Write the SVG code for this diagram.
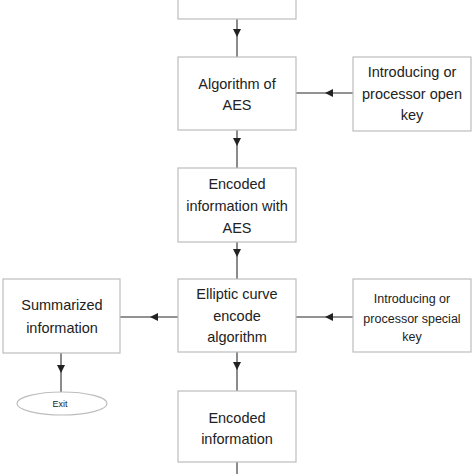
<svg xmlns="http://www.w3.org/2000/svg" width="474" height="474" viewBox="0 0 474 474">
<style>
.box{fill:#fff;stroke:#bdbdbd;stroke-width:1.2}
.t{font-family:"Liberation Sans",Arial,sans-serif;font-size:14.5px;fill:#222;text-anchor:middle}
.s{font-size:12.5px}
.e{font-size:9px}
.c{fill:none;stroke:#6e6e6e;stroke-width:1.6;marker-mid:url(#ah)}
</style>
<defs>
<marker id="ah" viewBox="0 0 10 10" refX="10" refY="5" markerWidth="8" markerHeight="8" markerUnits="userSpaceOnUse" orient="auto">
<path d="M0,0 L10,5 L0,10 Z" fill="#222"/>
</marker>
</defs>
<rect width="474" height="474" fill="#fff"/>
<g id="connectors">
<path class="c" d="M237,19 L237,37 L237,57"/>
<path class="c" d="M237,130 L237,146 L237,168"/>
<path class="c" d="M237,242 L237,257 L237,279"/>
<path class="c" d="M237,352 L237,370 L237,391"/>
<path class="c" d="M237,462 L237,474" style="marker-mid:none"/>
<path class="c" d="M353,93 L325,93 L296,93"/>
<path class="c" d="M353,317 L325,317 L296,317"/>
<path class="c" d="M178,317 L150,317 L120,317"/>
<path class="c" d="M61,353 L61,373 L61,392"/>
</g>
<g id="top"><rect class="box" x="178" y="-5" width="118" height="24"/></g>
<g id="aes">
<rect class="box" x="178" y="57" width="118" height="73"/>
<text class="t" x="237" y="89">Algorithm of</text>
<text class="t" x="237" y="110">AES</text>
</g>
<g id="openkey">
<rect class="box" x="353" y="57" width="118" height="74"/>
<text class="t" x="412" y="77">Introducing or</text>
<text class="t" x="412" y="99">processor open</text>
<text class="t" x="412" y="120">key</text>
</g>
<g id="encaes">
<rect class="box" x="178" y="168" width="118" height="74"/>
<text class="t" x="237" y="189">Encoded</text>
<text class="t" x="237" y="211">information with</text>
<text class="t" x="237" y="233">AES</text>
</g>
<g id="elliptic">
<rect class="box" x="178" y="279" width="118" height="73"/>
<text class="t" x="237" y="299">Elliptic curve</text>
<text class="t" x="237" y="321">encode</text>
<text class="t" x="237" y="342">algorithm</text>
</g>
<g id="specialkey">
<rect class="box" x="353" y="279" width="118" height="73"/>
<text class="t s" x="412" y="303">Introducing or</text>
<text class="t s" x="412" y="323">processor special</text>
<text class="t s" x="412" y="341">key</text>
</g>
<g id="summarized">
<rect class="box" x="3" y="279" width="117" height="74"/>
<text class="t" x="62" y="310">Summarized</text>
<text class="t" x="62" y="333">information</text>
</g>
<g id="exit">
<ellipse class="box" cx="62" cy="403.5" rx="45" ry="11.5"/>
<text class="t e" x="60" y="407">Exit</text>
</g>
<g id="encinfo">
<rect class="box" x="178" y="391" width="118" height="71"/>
<text class="t" x="237" y="423">Encoded</text>
<text class="t" x="237" y="444">information</text>
</g>
</svg>
